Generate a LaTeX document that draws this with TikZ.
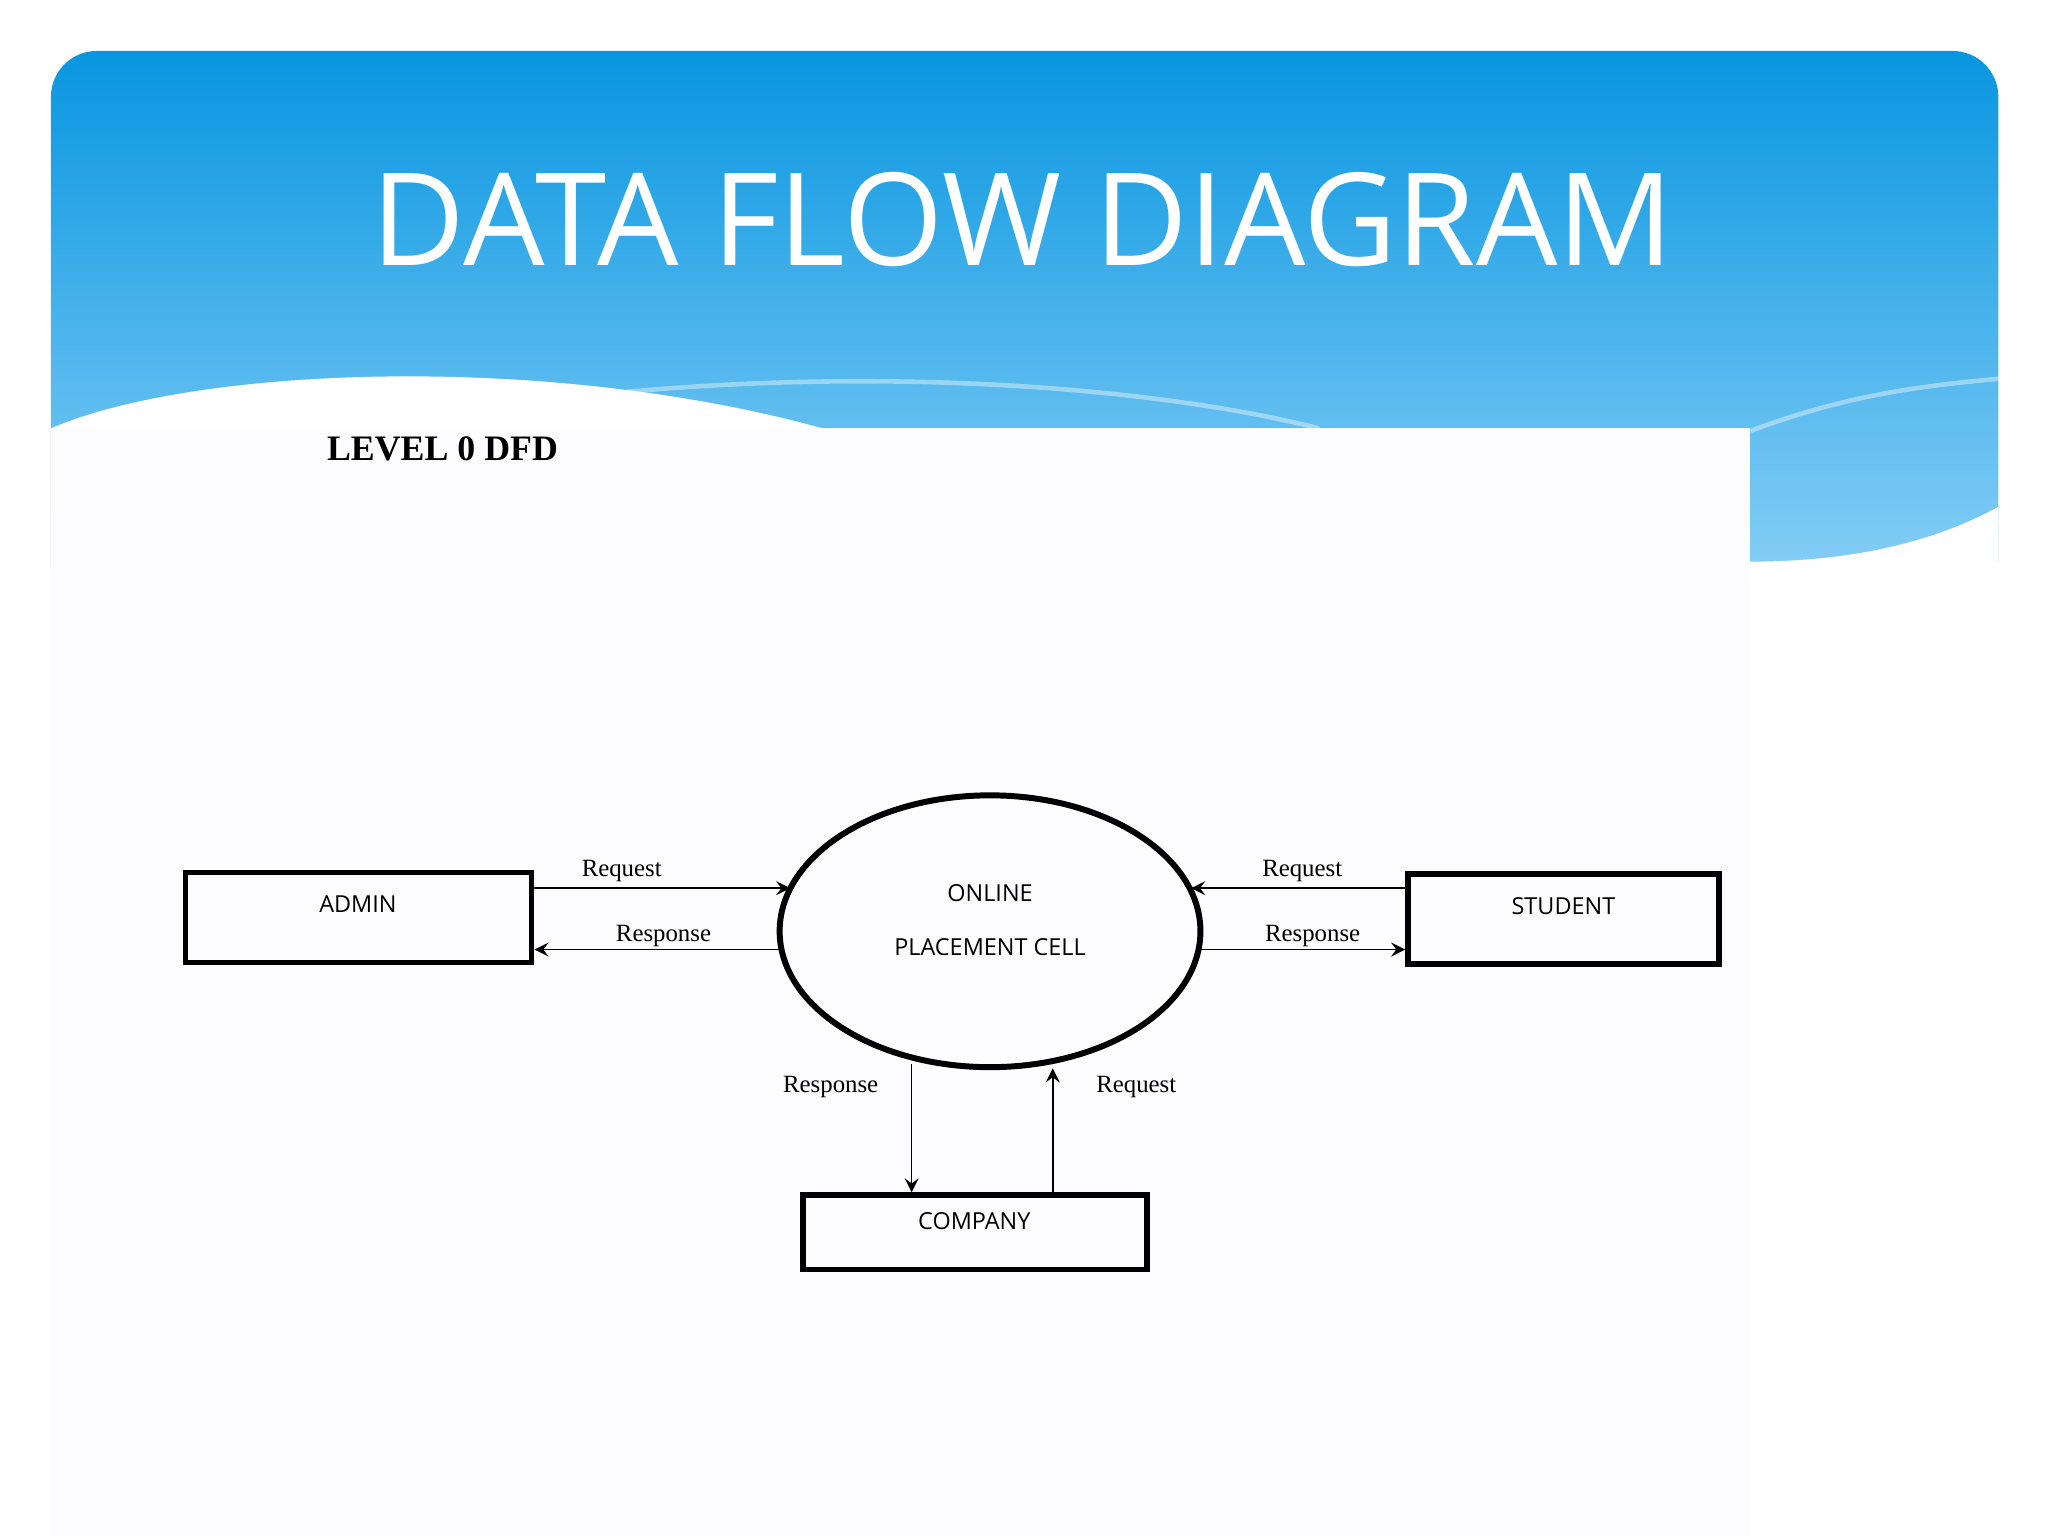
\documentclass[tikz,border=0pt]{standalone}
\usepackage{fontspec}
\setmainfont{Liberation Serif}
\newfontfamily\osans{Open Sans}
\usetikzlibrary{shapes.geometric,calc}
\definecolor{topblue}{HTML}{0896E0}
\definecolor{botblue}{HTML}{8FD2F8}
\definecolor{panel}{HTML}{FDFCFE}
\begin{document}
\begin{tikzpicture}[x=0.01cm,y=-0.01cm,
  box/.style={draw,line width=1.2pt,minimum width=2.65cm,minimum height=0.69cm,inner sep=0,font=\osans\fontsize{5.1}{6}\selectfont},
  lbl/.style={font=\fontsize{5.4}{6}\selectfont},
  flow/.style={->,line width=0.35pt,>=stealth}]
\useasboundingbox (0,0) rectangle (1568,1176);
\fill[white] (0,0) rectangle (1568,1176);
\shade[top color=topblue,bottom color=botblue,rounded corners=10] (39,39) rectangle (1530,470);
% wave and panel
\fill[white] (39,328) .. controls (150,280) and (420,270) .. (630,328) -- cycle;
\fill[white] (1340,430) .. controls (1430,430) and (1490,410) .. (1530,388) -- (1530,480) -- (1340,480) -- cycle;
\fill[panel] (39,328) rectangle (1340,1176);
\fill[white] (1340,430) rectangle (1568,1176);
\draw[white,opacity=0.4,line width=1pt] (480,300) .. controls (700,280) and (900,300) .. (1010,328);
\draw[white,opacity=0.4,line width=1pt] (1340,330) .. controls (1420,300) and (1480,295) .. (1530,290);
\node[text=white,font=\osans\fontsize{28}{30}\selectfont] (title) at (783,168) {DATA FLOW DIAGRAM};
\node[font=\bfseries\fontsize{7.8}{9}\selectfont,anchor=west] (level) at (238,344) {LEVEL 0 DFD};
% nodes
\node[draw,ellipse,line width=1.3pt,minimum width=3.22cm,minimum height=2.08cm,inner sep=0] (cell) at (758,713) {};
\node[font=\osans\fontsize{5.1}{6}\selectfont] (t1) at (758,684) {ONLINE};
\node[font=\osans\fontsize{5.1}{6}\selectfont] (t2) at (758,725) {PLACEMENT CELL};
\node[box,minimum width=2.65cm] (admin) at (274.5,702.5) {};
\node[font=\osans\fontsize{5.1}{6}\selectfont] (at) at (274,692) {ADMIN};
\node[box,minimum width=2.38cm] (student) at (1197,703.5) {};
\node[font=\osans\fontsize{5.1}{6}\selectfont] (st) at (1197,694) {STUDENT};
\node[box,minimum width=2.63cm,minimum height=0.57cm] (company) at (746.5,943.5) {};
\node[font=\osans\fontsize{5.1}{6}\selectfont] (ct) at (746,935) {COMPANY};
% flows
\draw[flow] (admin.east|-0,680) -- (605,680);
\draw[flow] (597,727) -- (admin.east|-0,727);
\draw[flow] (student.west|-0,680) -- (912,680);
\draw[flow] (918,727) -- (student.west|-0,727);
\draw[flow] (698,815) -- (698,0|-company.north);
\draw[flow] (806,0|-company.north) -- (806,818);
\node[lbl] (l1) at (476,667) {Request};
\node[lbl] (l2) at (508,717) {Response};
\node[lbl] (l3) at (997,667) {Request};
\node[lbl] (l4) at (1005,717) {Response};
\node[lbl] (l5) at (636,832) {Response};
\node[lbl] (l6) at (870,832) {Request};
\end{tikzpicture}
\end{document}
